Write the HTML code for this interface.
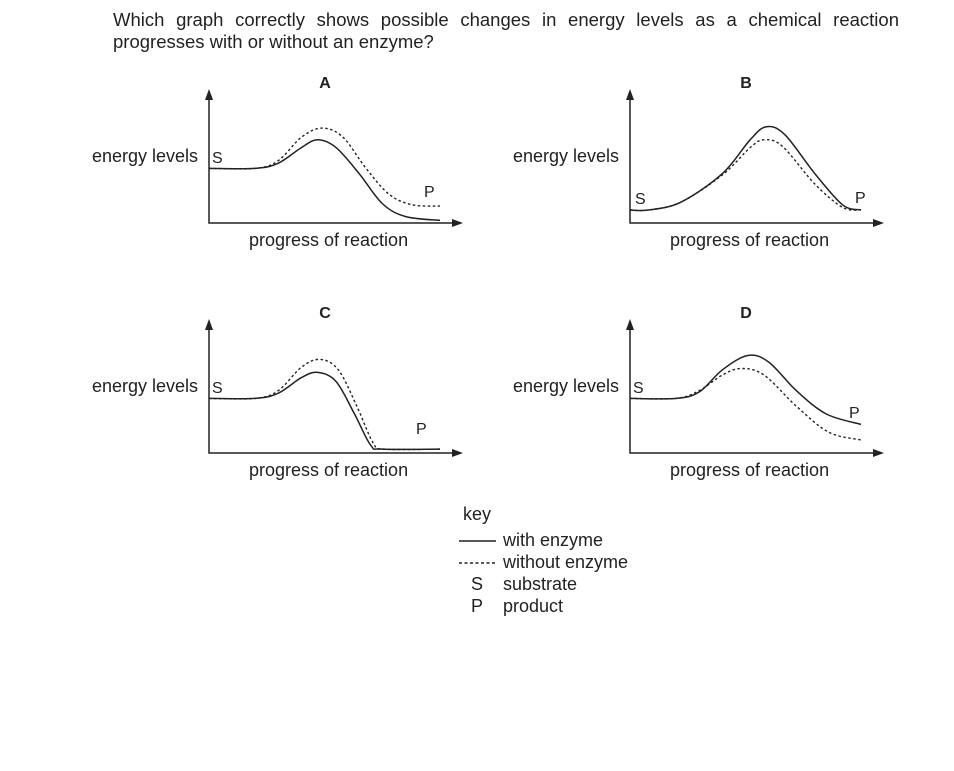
<!DOCTYPE html>
<html><head><meta charset="utf-8">
<style>
body{margin:0;background:#fff;width:954px;height:771px;overflow:hidden;font-family:"Liberation Sans",Arial,sans-serif;color:#222;}
svg{position:absolute;left:0;top:0;}
.q{position:absolute;left:113px;width:786px;font-size:18.5px;line-height:22px;white-space:nowrap;}
#q1{top:9px;text-align:justify;text-align-last:justify;}
#q2{top:31px;}
</style></head>
<body>
<svg id="chart" width="954" height="771" xmlns="http://www.w3.org/2000/svg" font-family="Liberation Sans, Arial, sans-serif" fill="#222">
<g id="panels"></g>
<g font-size="18">
<text x="463" y="520">key</text>
<line x1="459" y1="541" x2="496" y2="541" stroke="#222" stroke-width="1.5"/>
<line x1="459" y1="563" x2="496" y2="563" stroke="#222" stroke-width="1.5" stroke-dasharray="3,2.5"/>
<text x="503" y="546">with enzyme</text>
<text x="503" y="568">without enzyme</text>
<text x="471" y="590">S</text>
<text x="503" y="590">substrate</text>
<text x="471" y="612">P</text>
<text x="503" y="612">product</text>
</g>
</svg>
<div class="q" id="q1">Which graph correctly shows possible changes in energy levels as a chemical reaction</div>
<div class="q" id="q2">progresses with or without an enzyme?</div>
<script>
// progress (0-100) and energy (0-100) for each curve
const progressA_solid=[0,20,30,40,47,55,65,75,85,100];
const energyA_solid=[42,42,46,58,64,58,38,15,5,2];
const progressA_dash=[0,20,30,40,49,58,68,78,88,100];
const energyA_dash=[42,42,48,66,73,66,42,22,14,13];
const progressB_solid=[0,8,22,40,52,59,67,80,92,100];
const energyB_solid=[10,10,16,38,64,74,68,38,14,10];
const progressB_dash=[0,8,22,40,52,58,66,80,92,100];
const energyB_dash=[10,10,16,37,58,64,59,30,12,10];
const progressC_solid=[0,20,30,40,47,55,63,70,75,100];
const energyC_solid=[42,42,46,58,62,55,30,6,3,3];
const progressC_dash=[0,20,30,40,48,56,64,71,76,100];
const energyC_dash=[42,42,48,66,72,64,36,8,3,3];
const progressD_solid=[0,20,30,40,51,60,72,85,100];
const energyD_solid=[42,42,47,64,75,70,48,30,22];
const progressD_dash=[0,20,30,40,48,58,72,86,100];
const energyD_dash=[42,42,48,60,65,60,36,16,10];
const panelLabels=['A','B','C','D'];

const NS='http://www.w3.org/2000/svg';
const root=document.getElementById('panels');
function mk(tag,attrs,parent){const e=document.createElementNS(NS,tag);for(const k in attrs)e.setAttribute(k,attrs[k]);parent.appendChild(e);return e;}
function smooth(pts){let d='M'+pts[0][0]+','+pts[0][1];for(let i=0;i<pts.length-1;i++){const p0=pts[i-1]||pts[i],p1=pts[i],p2=pts[i+1],p3=pts[i+2]||p2;
const c1=[p1[0]+(p2[0]-p0[0])/6,p1[1]+(p2[1]-p0[1])/6],c2=[p2[0]-(p3[0]-p1[0])/6,p2[1]-(p3[1]-p1[1])/6];
d+=' C'+c1[0]+','+c1[1]+' '+c2[0]+','+c2[1]+' '+p2[0]+','+p2[1];}return d;}
const panels=[
 {ox:209,oy:223,xs:[progressA_solid,progressA_dash],ys:[energyA_solid,energyA_dash],S:[212,163],P:[424,197]},
 {ox:630,oy:223,xs:[progressB_solid,progressB_dash],ys:[energyB_solid,energyB_dash],S:[635,204],P:[855,203]},
 {ox:209,oy:453,xs:[progressC_solid,progressC_dash],ys:[energyC_solid,energyC_dash],S:[212,393],P:[416,434]},
 {ox:630,oy:453,xs:[progressD_solid,progressD_dash],ys:[energyD_solid,energyD_dash],S:[633,393],P:[849,418]}];
panels.forEach((p,i)=>{
 const g=mk('g',{},root);
 
 
 const xS=v=>p.ox+v*2.31, yS=v=>p.oy-v*1.3;
 const t=mk('text',{x:p.ox+116,y:p.oy-135,'font-size':'16','font-weight':'bold','text-anchor':'middle'},g);t.textContent=panelLabels[i];
 
 
 const ax=mk('path',{d:`M${p.ox},${p.oy-127} L${p.ox},${p.oy} L${p.ox+245},${p.oy}`,fill:'none',stroke:'#222','stroke-width':1.5},g);
 
 
 const ay=mk('path',{d:`M${p.ox-4},${p.oy-123} L${p.ox},${p.oy-134} L${p.ox+4},${p.oy-123}Z M${p.ox+243},${p.oy-4} L${p.ox+254},${p.oy} L${p.ox+243},${p.oy+4}Z`,fill:'#222'},g);
 
 
 const yl=mk('text',{x:p.ox-11,y:p.oy-61,'font-size':'18','text-anchor':'end'},g);yl.textContent='energy levels';
 
 
 const xl=mk('text',{x:p.ox+40,y:p.oy+23,'font-size':'18'},g);xl.textContent='progress of reaction';
 
 
 const sl=mk('text',{x:p.S[0],y:p.S[1],'font-size':'16'},g);sl.textContent='S';
 
 
 const pl=mk('text',{x:p.P[0],y:p.P[1],'font-size':'16'},g);pl.textContent='P';
 
 
 [0,1].forEach(k=>{
  const pts=p.xs[k].map((x,j)=>[xS(x),yS(p.ys[k][j])]);
  const c=mk('path',{d:smooth(pts),fill:'none',stroke:'#222','stroke-width':k?1.4:1.5},g);
  if(k)c.setAttribute('stroke-dasharray','2.5,2.5');
  
  
 });
});
</script>
</body></html>
